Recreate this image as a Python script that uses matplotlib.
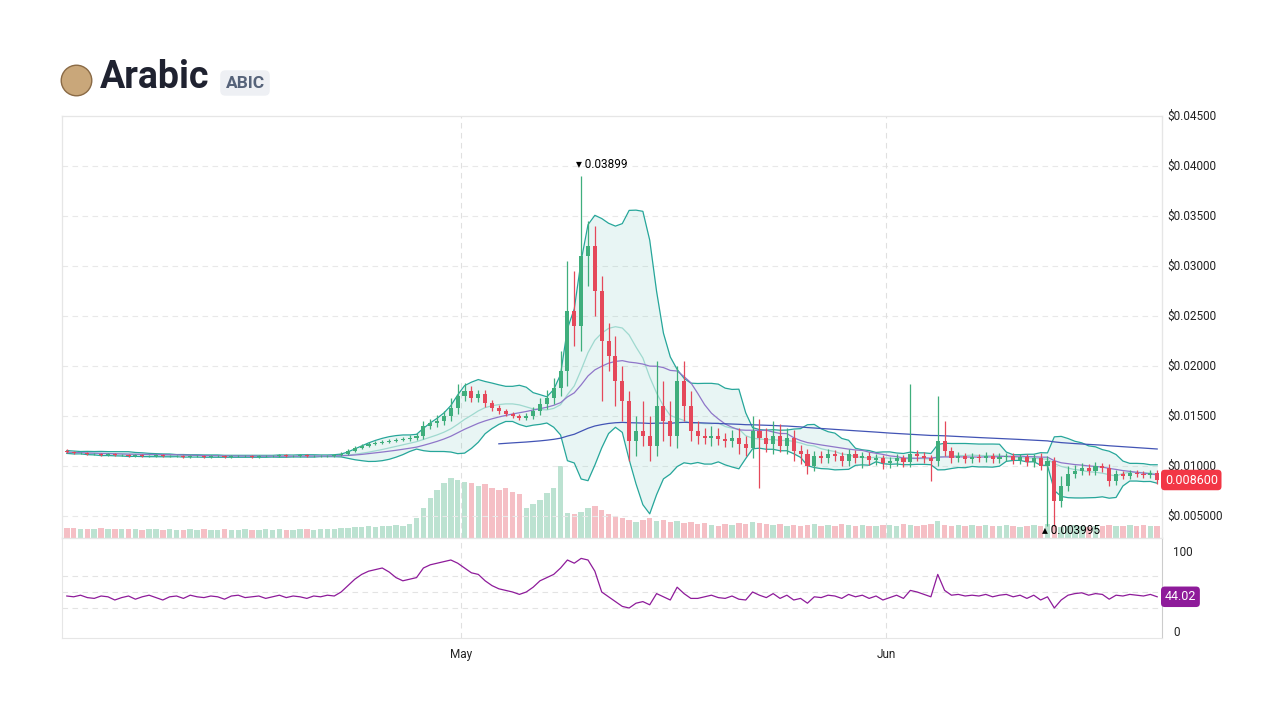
import numpy as np
import pandas as pd
import matplotlib
matplotlib.use('Agg')
import matplotlib.pyplot as plt

plt.rcParams['font.family'] = ['Roboto', 'DejaVu Sans']

# 12h candles starting Apr 2 (day 0); May 1 = day 29, Jun 1 = day 60
closes = [
    0.0114, 0.0113, 0.0113, 0.0112, 0.0112, 0.0111, 0.0112, 0.0111, 0.0111, 0.0110,
    0.0111, 0.0110, 0.0110, 0.0111, 0.0110, 0.0110, 0.0110, 0.0109, 0.0110, 0.0110,
    0.0109, 0.0110, 0.0110, 0.0109, 0.0110, 0.0110, 0.0110, 0.0109, 0.0110, 0.0110,
    0.0110, 0.0111, 0.0110, 0.0110, 0.0111, 0.0110, 0.0110, 0.0110, 0.0110, 0.0111,
    0.0112, 0.0115, 0.0118, 0.0120, 0.0122, 0.0123, 0.0124, 0.0125, 0.0126, 0.0127,
    0.0128, 0.0130, 0.0140, 0.0143, 0.0145, 0.0150, 0.0158, 0.0170, 0.0175, 0.0168,
    0.0172, 0.0163, 0.0158, 0.0155, 0.0152, 0.0150, 0.0148, 0.0150, 0.0155, 0.0162,
    0.0168, 0.0178, 0.0195, 0.0255, 0.0240, 0.0310, 0.0320, 0.0275, 0.0225, 0.0210,
    0.0185, 0.0165, 0.0125, 0.0135, 0.0130, 0.0120, 0.0160, 0.0145, 0.0130, 0.0185,
    0.0160, 0.0135, 0.0130, 0.0128, 0.0130, 0.0127, 0.0125, 0.0128, 0.0122, 0.0118,
    0.0135, 0.0128, 0.0122, 0.0130, 0.0120, 0.0128, 0.0115, 0.0112, 0.0100, 0.0110,
    0.0108, 0.0112, 0.0110, 0.0105, 0.0112, 0.0108, 0.0110, 0.0106, 0.0108, 0.0103,
    0.0105, 0.0108, 0.0104, 0.0112, 0.0110, 0.0108, 0.0105, 0.0125, 0.0115, 0.0108,
    0.0110, 0.0107, 0.0109, 0.0108, 0.0110, 0.0107, 0.0109, 0.0110, 0.0106, 0.0109,
    0.0104, 0.0108, 0.0100, 0.0105, 0.0065, 0.0080, 0.0092, 0.0095, 0.0098, 0.0095,
    0.0100, 0.0098, 0.0085, 0.0092, 0.0090, 0.0093, 0.0092, 0.0091, 0.0093, 0.0086,
]
# wick extensions above max(open, close) and below min(open, close), in 1e-4
wick_up = [
    2, 1, 1, 1, 1, 1, 1, 1, 1, 1, 1, 1, 1, 1, 1, 1, 1, 1, 1, 1,
    1, 1, 1, 1, 1, 1, 1, 1, 1, 1, 1, 1, 1, 1, 1, 1, 1, 1, 1, 1,
    2, 2, 2, 2, 2, 2, 2, 2, 2, 2, 3, 3, 5, 4, 6, 5, 10, 12, 8, 5,
    4, 4, 3, 3, 2, 2, 2, 3, 4, 6, 8, 10, 20, 50, 40, 79.9, 25, 20, 15, 18,
    20, 15, 10, 15, 30, 20, 45, 25, 20, 15, 20, 15, 10, 8, 10, 8, 6, 8, 10, 8,
    15, 12, 10, 15, 12, 10, 8, 6, 5, 5, 5, 5, 4, 4, 5, 4, 4, 4, 4, 3,
    4, 4, 3, 70, 4, 4, 3, 45, 20, 4, 4, 3, 4, 3, 4, 3, 4, 3, 3, 3,
    3, 4, 5, 5, 4, 10, 8, 6, 5, 4, 4, 3, 4, 4, 3, 3, 3, 3, 3, 3,
]
wick_dn = [
    1, 1, 1, 1, 1, 1, 1, 1, 1, 1, 1, 1, 1, 1, 1, 1, 1, 1, 1, 1,
    1, 1, 1, 1, 1, 1, 1, 1, 1, 1, 1, 1, 1, 1, 1, 1, 1, 1, 1, 1,
    1, 1, 1, 1, 1, 1, 1, 1, 1, 1, 2, 2, 3, 3, 4, 4, 5, 6, 5, 4,
    4, 4, 3, 3, 2, 2, 2, 2, 3, 4, 5, 6, 8, 15, 20, 25, 30, 25, 60, 15,
    25, 20, 20, 15, 10, 15, 10, 20, 10, 12, 15, 10, 8, 6, 8, 6, 6, 6, 10, 8,
    10, 50, 8, 10, 6, 8, 10, 10, 8, 5, 5, 5, 5, 5, 5, 5, 10, 5, 5, 6,
    5, 5, 5, 5, 5, 5, 20, 5, 5, 5, 4, 4, 4, 4, 4, 4, 4, 4, 4, 4,
    4, 5, 4, 60.05, 25, 6, 5, 4, 4, 4, 4, 4, 5, 4, 3, 3, 3, 3, 3, 4,
]
volumes = [
    10, 10, 9, 9, 9, 10, 9, 9, 9, 9, 9, 8, 9, 9, 8, 9, 8, 8, 9, 8,
    9, 8, 8, 9, 8, 8, 9, 8, 8, 9, 8, 9, 8, 8, 9, 9, 8, 9, 9, 9,
    10, 10, 11, 11, 12, 11, 12, 12, 13, 12, 14, 20, 30, 40, 48, 55, 60, 58, 56, 55,
    52, 54, 50, 48, 50, 46, 44, 30, 34, 38, 45, 50, 72, 25, 24, 26, 30, 32, 28, 24,
    22, 20, 18, 16, 18, 20, 17, 18, 16, 17, 15, 16, 14, 15, 13, 12, 14, 13, 15, 14,
    16, 15, 14, 13, 14, 12, 13, 12, 13, 14, 12, 13, 12, 14, 13, 12, 13, 12, 12, 13,
    13, 12, 14, 13, 12, 13, 14, 17, 13, 12, 13, 12, 13, 12, 13, 12, 12, 13, 12, 11,
    12, 13, 12, 14, 12, 11, 12, 13, 12, 11, 12, 12, 13, 12, 12, 13, 12, 13, 12, 12,
]
rsi_values = [
    45, 44, 46, 43, 42, 45, 44, 40, 43, 45, 41, 44, 46, 43, 40, 44, 45, 42, 46, 44,
    43, 45, 44, 41, 45, 46, 43, 44, 45, 42, 44, 46, 43, 45, 44, 42, 45, 44, 46, 45,
    50, 58, 66, 72, 76, 78, 80, 75, 68, 64, 66, 68, 80, 84, 86, 88, 90, 86, 80, 74,
    72, 64, 58, 54, 52, 50, 47, 50, 56, 64, 68, 72, 80, 90, 86, 92, 90, 76, 50, 44,
    38, 32, 30, 36, 38, 34, 48, 44, 40, 56, 48, 42, 42, 44, 46, 43, 42, 45, 41, 40,
    50, 46, 43, 48, 42, 46, 40, 42, 36, 44, 43, 46, 45, 42, 47, 44, 46, 42, 45, 40,
    43, 46, 42, 52, 50, 47, 44, 72, 52, 46, 47, 45, 46, 45, 47, 44, 46, 47, 44, 46,
    42, 46, 40, 44, 30, 40, 46, 48, 49, 46, 48, 47, 41, 46, 45, 47, 46, 45, 47, 44.02,
]
price_ticks = [0.045, 0.040, 0.035, 0.030, 0.025, 0.020, 0.015, 0.010, 0.005]
price_labels = ['$0.04500', '$0.04000', '$0.03500', '$0.03000', '$0.02500',
                '$0.02000', '$0.01500', '$0.01000', '$0.005000']
month_pos = [29, 60]
month_labels = ['May', 'Jun']

close = pd.Series(closes)
opens = close.shift(1).fillna(close.iloc[0] + 0.0001)
highs = np.maximum(opens, close) + np.array(wick_up) * 1e-4
lows = np.minimum(opens, close) - np.array(wick_dn) * 1e-4
x = np.arange(len(closes)) * 0.5 + 0.25

bb_mid = close.rolling(10, min_periods=1).mean()
bb_std = close.rolling(10, min_periods=2).std().bfill()
bb_up = bb_mid + 2 * bb_std
bb_lo = bb_mid - 2 * bb_std
ma_fast = close.rolling(17, min_periods=1).mean()
ma_slow = close.ewm(span=120, adjust=False).mean()
ma_slow[x < 31.5] = np.nan

GREEN = '#3fae7c'
RED = '#e5485a'

fig = plt.figure(figsize=(12.8, 7.2), dpi=100)
ax = fig.add_axes([62/1280, 182/720, 1100/1280, 422/720])
axv = ax.twinx()
axr = fig.add_axes([62/1280, 82/720, 1100/1280, 100/720], sharex=ax)

ax.set_xlim(-0.1, 80.1)
ax.set_ylim(0.0028, 0.045)
axv.set_ylim(0, 422)
axr.set_ylim(-7.5, 117.5)

for a in (ax, axv, axr):
    a.set_yticks([])
    a.tick_params(length=0, labelbottom=False)
    for s in a.spines.values():
        s.set_color('#e6e6e6')
axv.spines['right'].set_color('#cccccc')
axr.spines['right'].set_color('#cccccc')
ax.set_zorder(axv.get_zorder() + 1)
ax.patch.set_visible(False)

for t in price_ticks[1:]:
    ax.axhline(t, color='#e8e8e8', lw=0.8, ls=(0, (5, 4)), zorder=0)
for m in month_pos:
    ax.axvline(m, color='#e0e0e0', lw=0.8, ls=(0, (5, 4)), zorder=0)
    axr.axvline(m, color='#e0e0e0', lw=0.8, ls=(0, (5, 4)), zorder=0)

# volume
vcol = [GREEN if c >= o else RED for c, o in zip(close, opens)]
axv.bar(x, volumes, width=0.4, color=vcol, alpha=0.35, zorder=1)

# bollinger bands + MAs
ax.fill_between(x, bb_lo, bb_up, color='#26a69a', alpha=0.1, lw=0, zorder=1)
ax.plot(x, bb_up, color='#26a69a', lw=0.9, zorder=2)
ax.plot(x, bb_lo, color='#26a69a', lw=0.9, zorder=2)
ax.plot(x, bb_mid, color='#9fd9cf', lw=0.9, zorder=2)
ax.plot(x, ma_fast, color='#8f76c9', lw=0.9, zorder=2)
ax.plot(x, ma_slow, color='#4254b5', lw=0.9, zorder=2)

# candles
for xi, o, c, h, l in zip(x, opens, close, highs, lows):
    col = GREEN if c >= o else RED
    ax.vlines(xi, l, h, color=col, lw=0.9, zorder=3)
    ax.bar(xi, max(abs(c - o), 0.00004), bottom=min(o, c), width=0.3, color=col, zorder=3)

imax = int(np.argmax(highs))
imin = int(np.argmin(lows))
ax.annotate('▾ %.5f' % highs[imax], (x[imax], highs[imax]), xytext=(-4, 8),
            textcoords='offset points', fontsize=8.5, ha='left', va='center')
ax.annotate('▴ %.6f' % lows[imin], (x[imin], lows[imin]), xytext=(-4, -3),
            textcoords='offset points', fontsize=8.5, ha='left', va='center')

for t, lab in zip(price_ticks, price_labels):
    ax.text(1.005, t, lab, transform=ax.get_yaxis_transform(), fontsize=8.5,
            va='center', ha='left', color='#222222')
ax.text(1.0025, closes[-1], '%.6f' % closes[-1], transform=ax.get_yaxis_transform(),
        fontsize=9, va='center', ha='left', color='white',
        bbox=dict(boxstyle='round,pad=0.3', fc='#f23645', ec='none'))

# RSI
for lv in (70, 50, 30):
    axr.axhline(lv, color='#e3e3e3', lw=0.8, ls=(0, (5, 4)), zorder=0)
axr.plot(x, rsi_values, color='#8e1b9a', lw=0.9)
for lv, lab in ((100, '100'), (0, '0')):
    axr.text(1.01, lv, lab, transform=axr.get_yaxis_transform(), fontsize=8.5,
             va='center', ha='left', color='#222222')
axr.text(1.0025, rsi_values[-1], '%.2f' % rsi_values[-1], transform=axr.get_yaxis_transform(),
         fontsize=9, va='center', ha='left', color='white',
         bbox=dict(boxstyle='round,pad=0.3', fc='#8e1b9a', ec='none'))

for m, lab in zip(month_pos, month_labels):
    axr.text(m, -0.1, lab, transform=axr.get_xaxis_transform(), fontsize=8.5,
             ha='center', va='top', color='#222222')

# header
fig.lines.append(plt.Line2D([76/1280], [1 - 80/720], transform=fig.transFigure,
                            marker='o', ms=22, mfc='#c9a77a', mec='#8a6a45', mew=1))
fig.text(100/1280, 1 - 78/720, 'Arabic', fontsize=27, fontweight='bold',
         color='#1f2230', va='center', ha='left')
fig.text(245/1280, 1 - 83/720, 'ABIC', fontsize=12.5, fontweight='bold',
         color='#56637a', va='center', ha='center',
         bbox=dict(boxstyle='round,pad=0.3', fc='#eef0f4', ec='none'))

fig.savefig('out.png', dpi=100)
